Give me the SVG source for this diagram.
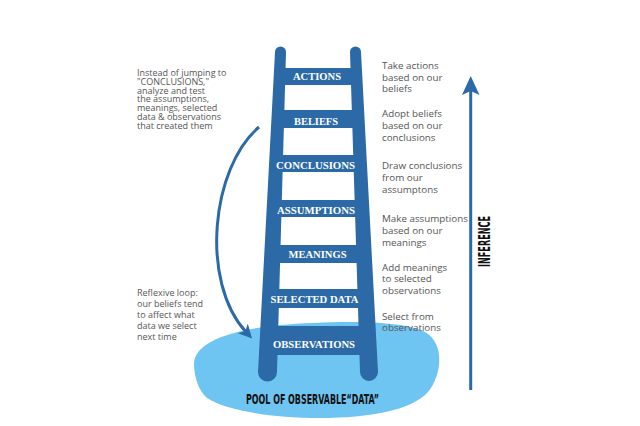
<svg xmlns="http://www.w3.org/2000/svg" width="640" height="426" viewBox="0 0 640 426">
  <style>
    .rail { fill: #2b6aa6; }
    .rung { fill: #2b6aa6; }
    .rl { font-family: "Liberation Serif", "DejaVu Serif", serif; font-weight: bold; font-size: 11px; fill: #ffffff; text-anchor: middle; }
    .note { font-family: "Open Sans", Lato, "Liberation Sans", sans-serif; fill: #555555; }
    .r { font-size: 9.8px; }
    .l { font-size: 9px; }
    .cond { font-family: "DejaVu Sans Condensed", "DejaVu Sans", sans-serif; font-weight: bold; fill: #111111; }
    .conn { stroke: #2b6aa6; stroke-width: 3; fill: none; }
  </style>
  <defs>
    <marker id="ah" viewBox="0 0 16 14" markerUnits="userSpaceOnUse" markerWidth="16" markerHeight="14" refX="5" refY="7" orient="auto">
      <path d="M14,7 L0,0 L4,7 L0,14 Z" fill="#2b6aa6"/>
    </marker>
  </defs>
  <rect width="640" height="426" fill="#ffffff"/>

  <g id="pool">
    <path d="M194,366 C192,342 232,330 280,325 C330,321 400,319 425,332 C445,343 442,375 428,392 C412,410 370,418 320,418 C270,418 225,410 207,398 C198,390 195,378 194,366 Z" fill="#6fc5f1"/>
    <text class="cond" x="312.5" y="404" font-size="13.5" text-anchor="middle" textLength="133" lengthAdjust="spacingAndGlyphs">POOL OF OBSERVABLE“DATA”</text>
  </g>

  <g id="ladder-rails">
    <path class="rail" d="M275,52 A5.5,5.5 0 0 1 286,52 L277,372 A9.5,9.5 0 0 1 258,372 Z"/>
    <path class="rail" d="M350,52 A5.5,5.5 0 0 1 361,52 L378,372 A9,9 0 0 1 360,372 Z"/>
  </g>

  <g id="rung-actions">
    <polygon class="rung" points="283.6,68 352.5,68 353,85 283.1,85"/>
    <text class="rl" x="317" y="80" textLength="48" lengthAdjust="spacingAndGlyphs">ACTIONS</text>
  </g>
  <g id="rung-beliefs">
    <polygon class="rung" points="282.4,110 353.8,110 354.4,128 281.9,128"/>
    <text class="rl" x="316" y="125" textLength="44" lengthAdjust="spacingAndGlyphs">BELIEFS</text>
  </g>
  <g id="rung-conclusions">
    <polygon class="rung" points="281.1,155 355.2,155 355.8,172 280.6,172"/>
    <text class="rl" x="315.5" y="169" textLength="79" lengthAdjust="spacingAndGlyphs">CONCLUSIONS</text>
  </g>
  <g id="rung-assumptions">
    <polygon class="rung" points="279.8,200 356.6,200 357.2,217 279.4,217"/>
    <text class="rl" x="316" y="213.5" textLength="78" lengthAdjust="spacingAndGlyphs">ASSUMPTIONS</text>
  </g>
  <g id="rung-meanings">
    <polygon class="rung" points="278.6,245 358,245 358.6,263 278.1,263"/>
    <text class="rl" x="317.5" y="258" textLength="58" lengthAdjust="spacingAndGlyphs">MEANINGS</text>
  </g>
  <g id="rung-selected-data">
    <polygon class="rung" points="277.3,289 359.4,289 360,308 276.8,308"/>
    <text class="rl" x="314.5" y="303" textLength="88" lengthAdjust="spacingAndGlyphs">SELECTED DATA</text>
  </g>
  <g id="rung-observations">
    <polygon class="rung" points="276.3,326 360.6,326 361.5,355 275.5,355"/>
    <text class="rl" x="314" y="348" textLength="82" lengthAdjust="spacingAndGlyphs">OBSERVATIONS</text>
  </g>

  <g id="note-left-top" class="note l">
    <text x="137" y="76">Instead of jumping to</text>
    <text x="137" y="84.8">"CONCLUSIONS,"</text>
    <text x="137" y="93.6">analyze and test</text>
    <text x="137" y="102.4">the assumptions,</text>
    <text x="137" y="111.2">meanings, selected</text>
    <text x="137" y="120">data &amp; observations</text>
    <text x="137" y="128.8">that created them</text>
  </g>

  <g id="note-left-bottom" class="note l">
    <text x="137" y="296.3">Reflexive loop:</text>
    <text x="137" y="307.1">our beliefs tend</text>
    <text x="137" y="317.9">to affect what</text>
    <text x="137" y="328.7">data we select</text>
    <text x="137" y="339.5">next time</text>
  </g>

  <g id="desc-actions" class="note r">
    <text x="382" y="69">Take actions</text>
    <text x="382" y="80.5">based on our</text>
    <text x="382" y="92">beliefs</text>
  </g>
  <g id="desc-beliefs" class="note r">
    <text x="382" y="116.5">Adopt beliefs</text>
    <text x="382" y="128.5">based on our</text>
    <text x="382" y="140.5">conclusions</text>
  </g>
  <g id="desc-conclusions" class="note r">
    <text x="382" y="168.5">Draw conclusions</text>
    <text x="382" y="180.5">from our</text>
    <text x="382" y="192.5">assumptons</text>
  </g>
  <g id="desc-assumptions" class="note r">
    <text x="382" y="221.5">Make assumptions</text>
    <text x="382" y="233.5">based on our</text>
    <text x="382" y="245.5">meanings</text>
  </g>
  <g id="desc-meanings" class="note r">
    <text x="382" y="270.5">Add meanings</text>
    <text x="382" y="282">to selected</text>
    <text x="382" y="293.5">observations</text>
  </g>
  <g id="desc-selected" class="note r">
    <text x="382" y="319.5">Select from</text>
    <text x="382" y="331">observations</text>
  </g>

  <g id="inference">
    <text class="cond" font-size="15" text-anchor="middle" transform="translate(490,241.5) rotate(-90)" textLength="51" lengthAdjust="spacingAndGlyphs">INFERENCE</text>
  </g>

  <g id="connectors">
    <path class="conn" d="M259,127 C211,168 200,282 246,332" marker-end="url(#ah)"/>
    <line class="conn" x1="470.7" y1="390" x2="470.7" y2="90"/>
    <polygon points="470.7,76 479.5,95 470.7,91 462,95" fill="#2b6aa6"/>
  </g>
</svg>
